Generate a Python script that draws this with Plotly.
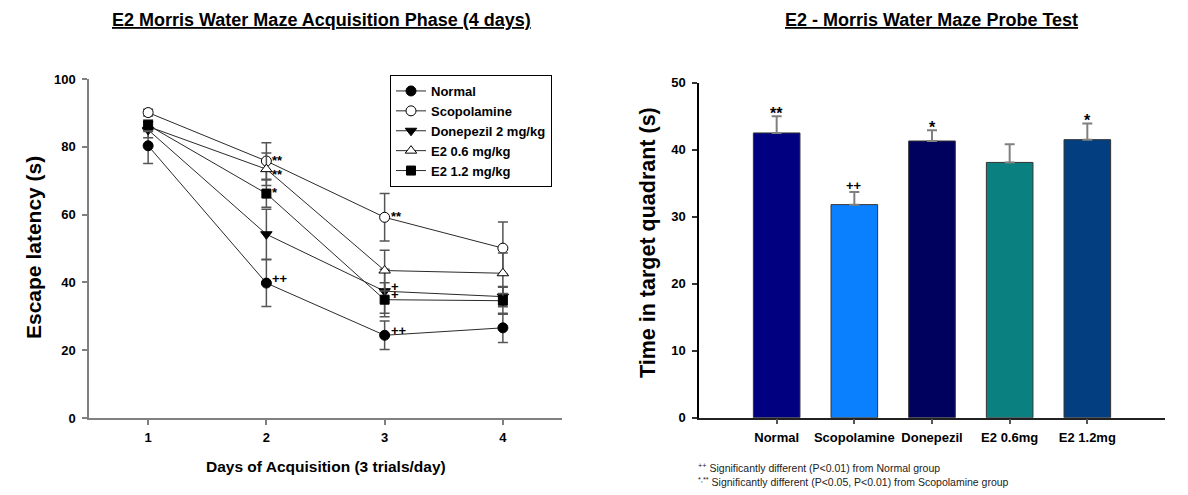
import plotly.graph_objects as go

W, H = 1188, 495
FONT = "Liberation Sans, Arial, sans-serif"

# ---------------- Left panel data (acquisition phase) ----------------
days = [1, 2, 3, 4]
day_ticks = ["1", "2", "3", "4"]
series_names = ["Normal", "Scopolamine", "Donepezil 2 mg/kg", "E2 0.6 mg/kg", "E2 1.2 mg/kg"]
normal = [80.3, 39.8, 24.4, 26.6]
normal_se = [5.2, 6.9, 4.2, 4.3]
scopolamine = [90.1, 75.8, 59.2, 50.1]
scopolamine_se = [1.0, 5.4, 7.0, 7.7]
donepezil = [85.0, 54.2, 37.4, 35.8]
donepezil_se = [2.3, 7.4, 6.5, 3.0]
e2_06 = [86.0, 73.4, 43.5, 42.7]
e2_06_se = [1.5, 4.8, 6.0, 6.0]
e2_12 = [86.4, 66.2, 34.9, 34.6]
e2_12_se = [1.5, 4.0, 5.0, 4.0]

# significance marks: (series index, day, text)
acq_marks = [
    (1, 2, "**"), (3, 2, "**"), (4, 2, "*"), (0, 2, "++"),
    (1, 3, "**"), (2, 3, "+"), (4, 3, "+"), (0, 3, "++"),
]

# ---------------- Right panel data (probe test) ----------------
groups = ["Normal", "Scopolamine", "Donepezil", "E2 0.6mg", "E2 1.2mg"]
probe_time = [42.5, 31.8, 41.3, 38.1, 41.5]
probe_se = [2.5, 1.9, 1.6, 2.7, 2.4]
probe_marks = ["**", "++", "*", "", "*"]
bar_colors = ["#000080", "#0A80FF", "#00005E", "#0A8080", "#033F80"]

fig = go.Figure()

left_vals = [normal, scopolamine, donepezil, e2_06, e2_12]
left_se = [normal_se, scopolamine_se, donepezil_se, e2_06_se, e2_12_se]
symbols = ["circle", "circle", "triangle-down", "triangle-up", "square"]
fills = ["black", "white", "black", "white", "black"]
sizes = [10, 10, 10, 10, 9]

for name, vals, se, sym, fill, sz in zip(series_names, left_vals, left_se, symbols, fills, sizes):
    fig.add_trace(go.Scatter(
        x=days, y=vals, name=name, mode="lines+markers",
        line=dict(color="#2a2a2a", width=1),
        marker=dict(symbol=sym, size=sz, color=fill,
                    line=dict(color="black", width=1)),
        error_y=dict(type="data", array=se, visible=True, color="#555555",
                     thickness=1.5, width=5),
        xaxis="x", yaxis="y",
    ))

fig.add_trace(go.Bar(
    x=groups, y=probe_time, width=0.6, showlegend=False,
    marker=dict(color=bar_colors, line=dict(color="#333333", width=1)),
    error_y=dict(type="data", array=probe_se, arrayminus=[0] * len(probe_se),
                 symmetric=False, color="#808080", thickness=2, width=5),
    xaxis="x2", yaxis="y2",
))

tickfont = dict(family=FONT, size=13, color="black", weight="bold")

fig.update_layout(
    width=W, height=H, autosize=False,
    margin=dict(l=0, r=0, t=0, b=0),
    paper_bgcolor="white", plot_bgcolor="white",
    font=dict(family=FONT, color="black"),
    xaxis=dict(domain=[89 / W, 562 / W], range=[0.5, 4.5], tickvals=days,
               ticktext=day_ticks, ticks="outside", ticklen=5, tickwidth=1.5,
               tickcolor="#808080", showline=True, linecolor="#808080",
               linewidth=1.5, showgrid=False, zeroline=False, anchor="y",
               tickfont=tickfont, ticklabelstandoff=2, automargin=False),
    yaxis=dict(domain=[(H - 418) / H, (H - 79) / H], range=[0, 100], dtick=20,
               ticks="outside", ticklen=5, tickwidth=1.5, tickcolor="#808080",
               showline=True, linecolor="#808080", linewidth=1.5,
               showgrid=False, zeroline=False, anchor="x",
               tickfont=tickfont, ticklabelstandoff=4, automargin=False),
    xaxis2=dict(domain=[699 / W, 1165 / W], type="category", range=[-1, 5],
                ticks="outside", ticklen=5, tickwidth=1.5, tickcolor="#555555",
                showline=True, linecolor="#222222", linewidth=1.5,
                showgrid=False, zeroline=False, anchor="y2",
                tickfont=dict(family=FONT, size=13, color="black", weight="bold"),
                ticklabelstandoff=2, automargin=False),
    yaxis2=dict(domain=[(H - 417.7) / H, (H - 82.7) / H], range=[0, 50], dtick=10,
                ticks="outside", ticklen=5, tickwidth=1.5, tickcolor="#333333",
                showline=True, linecolor="black", linewidth=1.5,
                showgrid=False, zeroline=False, anchor="x2",
                tickfont=tickfont, ticklabelstandoff=4, automargin=False),
    legend=dict(x=390 / W, y=1 - 75 / H, xanchor="left", yanchor="top",
                bordercolor="black", borderwidth=1, bgcolor="white",
                font=dict(family=FONT, size=13, color="black", weight="bold"),
                itemwidth=30, tracegroupgap=0),
    showlegend=True,
)

ann = []
# titles
ann.append(dict(text="<b><u>E2 Morris Water Maze Acquisition Phase (4 days)</u></b>",
                x=321 / W, y=1 - 20 / H, xref="paper", yref="paper",
                xanchor="center", yanchor="middle", showarrow=False,
                font=dict(family=FONT, size=18, color="black")))
ann.append(dict(text="<b><u>E2 - Morris Water Maze Probe Test</u></b>",
                x=931 / W, y=1 - 20 / H, xref="paper", yref="paper",
                xanchor="center", yanchor="middle", showarrow=False,
                font=dict(family=FONT, size=18, color="black")))
# axis titles
ann.append(dict(text="<b>Escape latency (s)</b>", x=33 / W, y=1 - 248 / H,
                xref="paper", yref="paper", xanchor="center", yanchor="middle",
                textangle=-90, showarrow=False,
                font=dict(family=FONT, size=21, color="black")))
ann.append(dict(text="<b>Days of Acquisition (3 trials/day)</b>", x=326 / W, y=1 - 466 / H,
                xref="paper", yref="paper", xanchor="center", yanchor="middle",
                showarrow=False, font=dict(family=FONT, size=15.5, color="black")))
ann.append(dict(text="<b>Time in target quadrant (s)</b>", x=648 / W, y=1 - 243 / H,
                xref="paper", yref="paper", xanchor="center", yanchor="middle",
                textangle=-90, showarrow=False,
                font=dict(family=FONT, size=21.5, color="black")))
# footnote
ann.append(dict(text="<sup>++</sup> Significantly different (P<0.01) from Normal group<br>"
                     "<sup>*,**</sup> Significantly different (P<0.05, P<0.01) from Scopolamine group",
                x=696 / W, y=1 - 459 / H, xref="paper", yref="paper",
                xanchor="left", yanchor="top", align="left", showarrow=False,
                font=dict(family=FONT, size=10.5, color="#222222")))
# acquisition significance marks (pixel offsets kept separate from data)
mark_dy = {1: -6}  # index in acq_marks -> extra vertical pixel shift
for k, (si, d, txt) in enumerate(acq_marks):
    base = 5 if "+" in txt else 1
    ann.append(dict(text="<b>" + txt + "</b>", x=d, y=left_vals[si][days.index(d)],
                    xref="x", yref="y", xanchor="left", yanchor="middle", xshift=4,
                    yshift=base + mark_dy.get(k, 0),
                    showarrow=False, font=dict(family=FONT, size=13, color="black")))
# probe significance marks
for g, v, s, txt in zip(groups, probe_time, probe_se, probe_marks):
    if txt:
        star = "*" in txt
        ann.append(dict(text="<b>" + txt + "</b>", x=g, y=v + s, xref="x2", yref="y2",
                        xanchor="center", yanchor="middle",
                        yshift=3 if star else 6,
                        showarrow=False,
                        font=dict(family=FONT, size=16 if star else 13, color="black")))

fig.update_layout(annotations=ann)
fig.write_html("out.html", post_script="document.body.style.margin='0px';")
